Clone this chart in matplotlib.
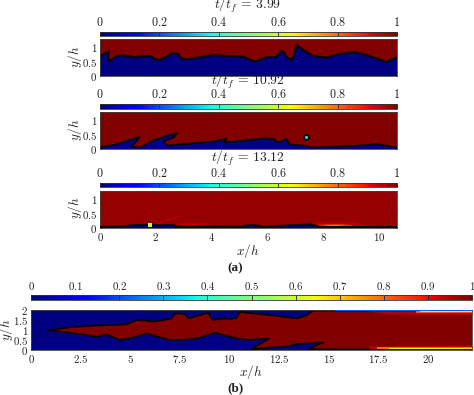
import matplotlib
matplotlib.use("Agg")
import matplotlib.pyplot as plt
from matplotlib.cm import ScalarMappable
from matplotlib.colors import Normalize
from matplotlib.patches import Ellipse

plt.rcParams["mathtext.fontset"] = "cm"
plt.rcParams["font.family"] = ["DejaVu Serif"]

W, H = 474, 395
FS = 7.8

# interface curves
x1 = [0, .19, .31, .29, .37, .55, .73, 1.2, 1.8, 1.98, 2.15, 2.39, 2.57, 2.81, 2.89, 3.11, 3.58, 4.06, 4.54,
      5.13, 5.55, 5.96, 6.32, 6.5, 6.62, 6.68, 6.88, 6.98, 7.04, 7.27, 7.63, 8.11, 8.58, 9.12, 9.54, 9.89, 10.25, 10.65]
y1 = [.70, .79, .85, .58, .53, .67, .73, .66, .70, .58, .56, .67, .79, .77, .62, .58, .65, .73, .70,
      .67, .50, .65, .67, .88, .79, .65, .56, .79, 1.08, .91, .70, .64, .77, .83, .73, .62, .49, .65]

x2 = [0, .49, .96, 1.42, 1.30, 1.13, 1.30, 1.5, 1.92, 2.39, 2.77, 2.63, 2.27, 2.42, 3.35, 4.06, 4.54, 4.44,
      5.01, 5.90, 6.2, 6.38, 6.68, 6.8, 7.27, 7.63, 8.11, 9.30, 9.89, 10.65]
y2 = [.07, .14, .28, .42, .26, .09, .05, .07, .31, .45, .56, .40, .26, .12, .20, .26, .36, .23,
      .28, .37, .35, .23, .35, .16, .12, .05, .07, .12, .17, .05]

x3 = [0, .96, 1.26, 1.74, 1.92, 2.63, 2.75, 3.94, 5.01, 5.43, 5.85, 6.92, 7.57, 7.87, 10.65]
y3 = [.04, .07, .11, .11, .10, .11, .05, .06, .05, .11, .05, .10, .13, .04, .04]

# jet core in panel b, upper edge then lower edge
jet_x = [.87, 1.8, 3.14, 4.14, 4.8, 5.32, 5.82, 6.16, 6.66, 7.08, 7.25, 7.75, 7.92, 8.5, 8.92, 9.17, 9.67, 10.0,
         10.35, 10.5, 12.0, 13.37, 13.9, 14.2, 19.5, 22.5,
         22.5, 15.3, 14.0, 14.2, 14.7, 13.4, 12.9, 11.1, 12.0, 11.0, 10.33, 9.67, 9.25, 8.5, 7.67, 7.0, 6.16, 5.82,
         5.15, 4.47, 3.8, 3.3, 2.8, 1.8]
jet_y = [.98, 1.12, 1.22, 1.25, 1.28, 1.5, 1.47, 1.42, 1.5, 1.58, 1.83, 1.8, 1.58, 1.75, 1.85, 1.5, 1.58, 1.55,
         1.6, 1.9, 1.75, 1.58, 1.75, 1.97, 1.97, 1.97,
         .03, .03, .05, .17, .37, .3, .18, .05, .58, .5, .58, .75, .87, .6, .5, .5, .72, .83,
         .62, .5, .78, .65, .75, .88]

# glow spots in panel a3: x, y, width, height, colour value, alpha
glow_x = [3.3, 3.3, 8.4, 8.4, 8.4]
glow_y = [.08, .07, .1, .08, .07]
glow_w = [1.6, .8, 2.2, 1.3, .7]
glow_h = [.2, .1, .22, .12, .05]
glow_v = [.92, .88, .92, .85, .72]
glow_a = [.45, .6, .45, .7, .9]

# hot cell in panel a3
spot_x = [1.8]
spot_y = [.1]

cbar_ticks_a = [0, .2, .4, .6, .8, 1]
cbar_ticks_b = [0, .1, .2, .3, .4, .5, .6, .7, .8, .9, 1]
a_xticks = [0, 2, 4, 6, 8, 10]
a_yticks = [0, .5, 1]
b_xticks = [0, 2.5, 5, 7.5, 10, 12.5, 15, 17.5, 20]
b_yticks = [0, .5, 1, 1.5, 2]

cmap = plt.get_cmap("jet")
blue = cmap(0.0)
red = cmap(1.0)
INK = "#222222"


def fmt(v):
    return f"${v:g}$"


def box(left, top, right, bottom):
    return fig.add_axes([left / W, 1 - bottom / H, (right - left) / W, (bottom - top) / H])


def label(px, py, s, size=9.5, **kw):
    fig.text(px / W, 1 - py / H, s, ha="center", va="center", fontsize=size, color=INK, **kw)


def colorbar(left, top, right, bottom, ticks, size):
    cax = box(left, top, right, bottom)
    sm = ScalarMappable(Normalize(0, 1), cmap)
    cb = fig.colorbar(sm, cax=cax, orientation="horizontal")
    cb.set_ticks(ticks)
    cb.set_ticklabels([fmt(t) for t in ticks])
    cax.xaxis.set_ticks_position("top")
    cax.tick_params(axis="x", direction="in", length=(bottom - top) * 0.72, width=.6, pad=2.3,
                    labelsize=size, colors=INK)
    cb.outline.set_linewidth(.6)
    cb.outline.set_edgecolor("#333333")


def setup(ax, xmax, ymax, xticks, yticks, show_x):
    ax.set_xlim(0, xmax)
    ax.set_ylim(0, ymax)
    ax.set_xticks(xticks)
    ax.set_yticks(yticks)
    ax.set_xticklabels([fmt(t) for t in xticks] if show_x else [])
    ax.set_yticklabels([fmt(t) for t in yticks])
    ax.tick_params(direction="in", length=1.5, width=.5, top=True, right=True, labelsize=FS, pad=2, colors=INK)
    for s in ax.spines.values():
        s.set_linewidth(.6)
        s.set_color("#444444")


def lower_fill(ax, x, y, lw):
    ax.fill(x + [x[-1], x[0]], y + [-.1, -.1], color=blue, lw=0)
    ax.plot(x, y, color="black", lw=lw, solid_joinstyle="round")


fig = plt.figure(figsize=(W / 100, H / 100), dpi=100)

# panel a
colorbar(100, 32, 397, 35.7, cbar_ticks_a, 8.7)
ax1 = box(100, 38.7, 397, 76)
ax1.set_facecolor(red)
setup(ax1, 10.64, 1.3, a_xticks, a_yticks, False)
lower_fill(ax1, x1, y1, 1.5)

colorbar(100, 104.3, 397, 108.7, cbar_ticks_a, 8.7)
ax2 = box(100, 111.7, 397, 149)
ax2.set_facecolor(red)
setup(ax2, 10.64, 1.3, a_xticks, a_yticks, False)
lower_fill(ax2, x2, y2, 1.2)
ax2.scatter([7.38], [.41], s=12, color=cmap(.35), edgecolor="black", linewidth=1.2, zorder=4)

colorbar(100, 183.3, 397, 187.3, cbar_ticks_a, 8.7)
ax3 = box(100, 190.7, 397, 228)
ax3.set_facecolor(cmap(.98))
setup(ax3, 10.64, 1.3, a_xticks, a_yticks, True)
for gx, gy, gw, gh, gv, ga in zip(glow_x, glow_y, glow_w, glow_h, glow_v, glow_a):
    ax3.add_patch(Ellipse((gx, gy), gw, gh, color=cmap(gv), alpha=ga, lw=0, zorder=3))
ax3.plot([2.0, 2.9], [.15, .42], color=cmap(.93), lw=1.0, alpha=.6)
ax3.fill(x3 + [x3[-1], x3[0]], y3 + [-.1, -.1], color=blue, lw=0, zorder=3.5)
ax3.plot(x3, y3, color="black", lw=1.3, zorder=3.6)
ax3.scatter(spot_x, spot_y, s=12, marker="s", color=cmap(.58), lw=0, zorder=4)

label(75, 57, "$y/h$", rotation=90)
label(75, 130, "$y/h$", rotation=90)
label(75, 208, "$y/h$", rotation=90)
label(248, 251, "$x/h$")

label(248, 5.5, "$t/t_f\\,=\\,3.99$", size=9.8)
label(248, 81, "$t/t_f\\,=\\,10.92$", size=9.8)
label(248, 158, "$t/t_f\\,=\\,13.12$", size=9.8)

# panel b
colorbar(31, 295, 472, 299.7, cbar_ticks_b, FS)
axb = box(31, 310, 472, 350)
axb.set_facecolor(blue)
setup(axb, 22.2, 2, b_xticks, b_yticks, True)
axb.fill(jet_x, jet_y, facecolor=red, edgecolor="black", lw=1.2, joinstyle="round")
# wall layers on the right
axb.fill_between([17.0, 18, 22.2], [1.95, 1.8, 1.76], [1.96, 1.96, 1.96], color=cmap(.92), alpha=.6, lw=0, zorder=3)
axb.fill_between([19.4, 22.2], [1.84, 1.84], [1.96, 1.96], color=cmap(.82), lw=0, zorder=3)
axb.fill_between([19.6, 22.2], [1.89, 1.89], [1.97, 1.97], color=cmap(.66), lw=0, zorder=3)
axb.fill_between([17, 22.2], [.04, .04], [.2, .24], color=cmap(.92), alpha=.6, lw=0, zorder=3)
axb.fill_between([17.4, 22.2], [.04, .04], [.13, .13], color=cmap(.8), lw=0, zorder=3)
axb.fill_between([18, 22.2], [.03, .03], [.09, .09], color=cmap(.66), lw=0, zorder=3)
axb.plot([15.3, 22.2], [1.98, 1.98], color=cmap(.22), lw=.7, zorder=3)
axb.plot([15.3, 22.2], [.02, .02], color=cmap(.22), lw=.7, zorder=3)
label(6, 330, "$y/h$", rotation=90)
label(251, 372, "$x/h$")

label(235.5, 268, "(a)", fontweight="bold", family="Liberation Serif")
label(235.5, 388, "(b)", fontweight="bold", family="Liberation Serif")

fig.savefig("out.png", dpi=100)
